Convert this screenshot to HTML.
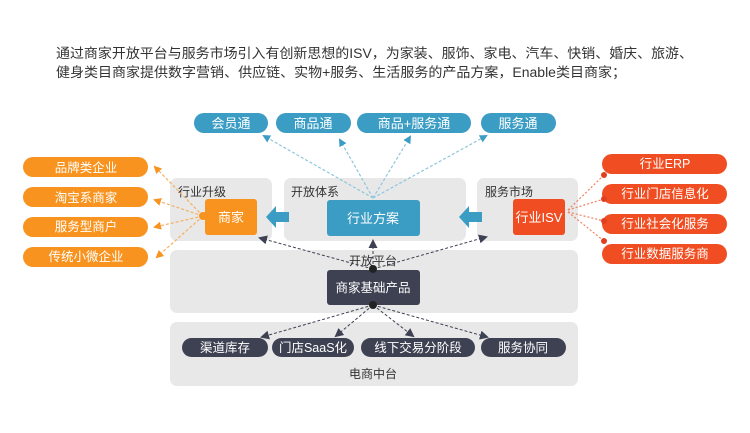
<!DOCTYPE html>
<html><head><meta charset="utf-8"><style>
html,body{margin:0;padding:0;background:#fff;}
svg text{font-family:"Liberation Sans","Noto Sans CJK SC",sans-serif;}
</style></head><body>
<svg width="750" height="428" viewBox="0 0 750 428" xmlns="http://www.w3.org/2000/svg">
<defs>
<marker id="ab" markerWidth="8" markerHeight="8" refX="6" refY="4" orient="auto" markerUnits="userSpaceOnUse"><path d="M0,0 L8,4 L0,8 z" fill="#3b9cc4"/></marker>
<marker id="ao" markerWidth="8" markerHeight="8" refX="6" refY="4" orient="auto" markerUnits="userSpaceOnUse"><path d="M0,0 L8,4 L0,8 z" fill="#f7931e"/></marker>
<marker id="ad" markerWidth="9" markerHeight="9" refX="7" refY="4.5" orient="auto" markerUnits="userSpaceOnUse"><path d="M0,0 L9,4.5 L0,9 z" fill="#3d4152"/></marker>
</defs>
<text x="56" y="58" font-size="13.5" fill="#333" textLength="637" lengthAdjust="spacingAndGlyphs">通过商家开放平台与服务市场引入有创新思想的ISV，为家装、服饰、家电、汽车、快销、婚庆、旅游、</text>
<text x="56" y="77" font-size="13.5" fill="#333" textLength="570" lengthAdjust="spacingAndGlyphs">健身类目商家提供数字营销、供应链、实物+服务、生活服务的产品方案，Enable类目商家；</text>

<!-- panels -->
<g fill="#e8e8e8">
<rect x="170" y="178" width="102" height="63" rx="7"/>
<rect x="284" y="178" width="182" height="63" rx="7"/>
<rect x="477" y="178" width="101" height="63" rx="7"/>
<rect x="170" y="250" width="408" height="63" rx="7"/>
<rect x="170" y="322" width="408" height="64" rx="7"/>
</g>
<g font-size="12" fill="#333">
<text x="178" y="196">行业升级</text>
<text x="291" y="196">开放体系</text>
<text x="485" y="196">服务市场</text>
<text x="373" y="265" text-anchor="middle">开放平台</text>
<text x="373" y="378" text-anchor="middle">电商中台</text>
</g>

<!-- top pills -->
<g fill="#3b9cc4">
<rect x="194" y="113" width="74" height="20" rx="10"/>
<rect x="276" y="113" width="75" height="20" rx="10"/>
<rect x="357" y="113" width="114" height="20" rx="10"/>
<rect x="481" y="113" width="75" height="20" rx="10"/>
</g>
<g font-size="13" fill="#fff" text-anchor="middle">
<text x="231" y="128">会员通</text>
<text x="313" y="128">商品通</text>
<text x="414" y="128">商品+服务通</text>
<text x="518" y="128">服务通</text>
</g>
<g stroke="#8cc6de" stroke-width="1.2" stroke-dasharray="3,2" fill="none">
<line x1="373" y1="198" x2="264" y2="136" marker-end="url(#ab)"/>
<line x1="373" y1="198" x2="340" y2="140" marker-end="url(#ab)"/>
<line x1="373" y1="198" x2="410" y2="137" marker-end="url(#ab)"/>
<line x1="373" y1="198" x2="486" y2="136" marker-end="url(#ab)"/>
</g>

<!-- left orange pills -->
<g fill="#f7931e">
<rect x="23" y="157" width="125" height="20" rx="10"/>
<rect x="23" y="187" width="125" height="20" rx="10"/>
<rect x="23" y="217" width="125" height="20" rx="10"/>
<rect x="23" y="247" width="125" height="20" rx="10"/>
</g>
<g font-size="12.5" fill="#fff" text-anchor="middle">
<text x="86" y="172">品牌类企业</text>
<text x="86" y="202">淘宝系商家</text>
<text x="86" y="231">服务型商户</text>
<text x="86" y="261">传统小微企业</text>
</g>
<g stroke="#f7b060" stroke-width="1.2" stroke-dasharray="3,2" fill="none">
<line x1="203" y1="216" x2="155" y2="167" marker-end="url(#ao)"/>
<line x1="203" y1="216" x2="155" y2="200" marker-end="url(#ao)"/>
<line x1="203" y1="216" x2="155" y2="227" marker-end="url(#ao)"/>
<line x1="203" y1="216" x2="157" y2="257" marker-end="url(#ao)"/>
</g>
<circle cx="203" cy="216" r="4" fill="#f7931e"/>

<!-- right red pills -->
<g fill="#f04e22">
<rect x="602" y="154" width="125" height="20" rx="10"/>
<rect x="602" y="184" width="125" height="20" rx="10"/>
<rect x="602" y="214" width="125" height="20" rx="10"/>
<rect x="602" y="244" width="125" height="20" rx="10"/>
</g>
<g font-size="12.5" fill="#fff" text-anchor="middle">
<text x="665" y="168">行业ERP</text>
<text x="665" y="198">行业门店信息化</text>
<text x="665" y="228">行业社会化服务</text>
<text x="665" y="258">行业数据服务商</text>
</g>
<g stroke="#f08060" stroke-width="1.2" stroke-dasharray="2,2" fill="none">
<line x1="568" y1="210" x2="604" y2="175"/>
<line x1="568" y1="210" x2="604" y2="199"/>
<line x1="568" y1="212" x2="604" y2="221"/>
<line x1="568" y1="212" x2="604" y2="241"/>
</g>
<g fill="#e04020">
<circle cx="604" cy="175" r="3"/><circle cx="604" cy="199" r="3"/><circle cx="604" cy="221" r="3"/><circle cx="604" cy="241" r="3"/>
</g>

<!-- center boxes -->
<rect x="205" y="199" width="52" height="36" rx="3" fill="#f7931e"/>
<text x="231" y="222" font-size="13" fill="#fff" text-anchor="middle">商家</text>
<rect x="327" y="200" width="93" height="36" rx="3" fill="#3b9cc4"/>
<text x="373" y="223" font-size="13" fill="#fff" text-anchor="middle">行业方案</text>
<rect x="513" y="199" width="52" height="36" rx="3" fill="#f04e22"/>
<text x="539" y="222" font-size="13" fill="#fff" text-anchor="middle">行业ISV</text>

<!-- big blue arrows -->
<path d="M289,212 L276,212 L276,206 L266,217 L276,228 L276,222 L289,222 z" fill="#3b9cc4"/>
<path d="M482,212 L469,212 L469,206 L459,217 L469,228 L469,222 L482,222 z" fill="#3b9cc4"/>

<!-- dark -->
<rect x="327" y="270" width="93" height="35" rx="3" fill="#3d4152"/>
<text x="373" y="292" font-size="12.5" fill="#fff" text-anchor="middle">商家基础产品</text>
<g stroke="#3d4152" stroke-width="1" stroke-dasharray="3,2" fill="none">
<line x1="373" y1="269" x2="260" y2="238" marker-end="url(#ad)"/>
<line x1="373" y1="269" x2="373" y2="241" marker-end="url(#ad)"/>
<line x1="373" y1="269" x2="486" y2="237" marker-end="url(#ad)"/>
<line x1="373" y1="305" x2="262" y2="337" marker-end="url(#ad)"/>
<line x1="373" y1="305" x2="336" y2="336" marker-end="url(#ad)"/>
<line x1="373" y1="305" x2="413" y2="336" marker-end="url(#ad)"/>
<line x1="373" y1="305" x2="487" y2="337" marker-end="url(#ad)"/>
</g>
<circle cx="373" cy="269" r="4" fill="#222"/>
<circle cx="373" cy="305" r="4" fill="#222"/>

<g fill="#3d4152">
<rect x="182" y="338" width="86" height="19" rx="9.5"/>
<rect x="272" y="338" width="82" height="19" rx="9.5"/>
<rect x="361" y="338" width="114" height="19" rx="9.5"/>
<rect x="481" y="338" width="85" height="19" rx="9.5"/>
</g>
<g font-size="12.5" fill="#fff" text-anchor="middle">
<text x="225" y="352">渠道库存</text>
<text x="313" y="352">门店SaaS化</text>
<text x="418" y="352">线下交易分阶段</text>
<text x="523" y="352">服务协同</text>
</g>
</svg>
</body></html>
